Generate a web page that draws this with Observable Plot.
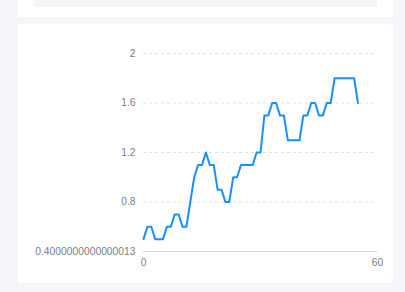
<!DOCTYPE html>
<html>
<head>
<meta charset="utf-8">
<script src="https://cdn.jsdelivr.net/npm/d3@7"></script>
<script src="https://cdn.jsdelivr.net/npm/@observablehq/plot@0.6"></script>
<style>
  html, body { margin: 0; padding: 0; }
  body { width: 405px; height: 292px; background: #f5f6fa; position: relative; overflow: hidden; font-family: "Liberation Sans", Arial, sans-serif; }
  .card { position: absolute; background: #fff; }
  .inner { position: absolute; background: #f3f4f8; border-radius: 0 0 3px 3px; }
  #chart { position: absolute; left: 0; top: 24px; }
</style>
</head>
<body>
<div class="card" style="left:18px; top:0; width:375px; height:17px;"></div>
<div class="inner" style="left:34px; top:0; width:343px; height:7px;"></div>
<div class="card" style="left:18px; top:24px; width:375px; height:259px;"></div>
<div id="chart"></div>
<script>
const values = [0.5, 0.6, 0.6, 0.5, 0.5, 0.5, 0.6, 0.6, 0.7, 0.7,
                0.6, 0.6, 0.8, 1.0, 1.1, 1.1, 1.2, 1.1, 1.1, 0.9,
                0.9, 0.8, 0.8, 1.0, 1.0, 1.1, 1.1, 1.1, 1.1, 1.2,
                1.2, 1.5, 1.5, 1.6, 1.6, 1.5, 1.5, 1.3, 1.3, 1.3,
                1.3, 1.5, 1.5, 1.6, 1.6, 1.5, 1.5, 1.6, 1.6, 1.8,
                1.8, 1.8, 1.8, 1.8, 1.8, 1.6];
const yTicks = [0.4000000000000013, 0.8, 1.2, 1.6, 2];
const xTicks = [0, 60];
const xDomain = [0, 60];

const data = values.map((v, i) => ({x: i, y: v}));

const chart = Plot.plot({
  width: 405,
  height: 260,
  marginLeft: 143,
  marginRight: 28,
  marginTop: 29,
  marginBottom: 33,
  style: {background: "transparent", fontFamily: "'Liberation Sans', Arial, sans-serif", fontSize: "10.3px", color: "#808080"},
  x: {domain: xDomain, ticks: xTicks, label: null},
  y: {domain: [yTicks[0], yTicks[yTicks.length - 1]], ticks: yTicks, label: null},
  marks: [
    Plot.ruleY(yTicks.slice(1), {stroke: "#e3e3e3", strokeDasharray: "3,3", strokeWidth: 1}),
    Plot.ruleY([yTicks[0]], {stroke: "#dcdcdc", strokeWidth: 1}),
    Plot.axisY({ticks: yTicks, tickSize: 0, tickPadding: 8, tickFormat: d => String(d), fill: "#808080"}),
    Plot.axisX({ticks: xTicks, tickSize: 0, tickPadding: 7, tickFormat: d => String(d), fill: "#808080"}),
    Plot.line(data, {x: "x", y: "y", stroke: "#1890ff", strokeWidth: 2, strokeLinejoin: "round"})
  ]
});
document.getElementById("chart").appendChild(chart);
</script>
</body>
</html>
